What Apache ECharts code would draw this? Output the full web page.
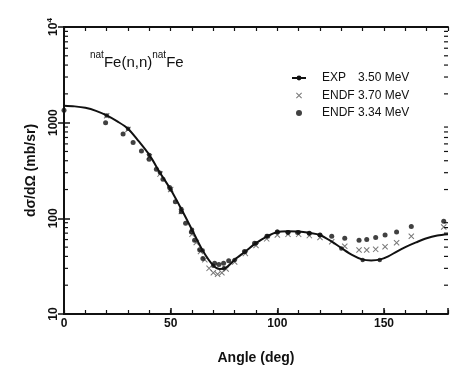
<!DOCTYPE html>
<html><head><meta charset="utf-8">
<script src="https://cdn.jsdelivr.net/npm/echarts@6/dist/echarts.min.js"></script>
<style>html,body{margin:0;padding:0;background:#fff}#c{width:474px;height:378px}</style>
</head><body><div id="c"></div>
<script>
// EXP fit curve
const curveAngles = [0,5,10,15,20,25,30,35,40,45,50,55,60,65,70,73,76,80,85,90,95,100,105,110,115,120,125,130,135,140,144,148,152,156,160,165,170,175,180];
const curveValues = [1500,1480,1430,1330,1190,1030,865,640,460,300,200,125,76,46,32,29.5,30.5,37,45,55,64.5,72,73.5,73,70.5,67,58,49,41.5,37,36.3,37,40,45,50,56,62,66,68];
// EXP markers
const expAngles = [20,30,40,45,50,55,60,65,70,75,80,85,90,95,100,105,110,115,120,130,140,148];
const expValues = [1190,865,460,300,200,125,76,46,32,30,36.7,44.8,54.8,65.3,72.4,71.4,71.4,69.7,67,48.5,36.7,36.7];
// ENDF 3.70 MeV (crosses)
const endf370Angles = [20,30,40,45,50,55,60,62,64,66,68,70,72,74,76,80,85,90,95,100,105,110,115,120,125.5,131.6,138.3,141.9,146.1,150.5,155.9,162.8,178];
const endf370Values = [1180,850,440,290,200,118,68,56,45,37,30,27,26,27,29.5,35,43,52,61,67,68,68,66,63,57,51,46.6,46.6,47.4,50.5,55.6,65,81];
// ENDF 3.34 MeV (dots)
const endf334Angles = [0,19.5,27.7,32.4,36.3,39.9,43.3,46.4,49.5,52.2,55,57,59.7,61.2,63.6,65.1,70.6,72.6,74.8,77.2,84.6,89.3,95.5,100,105,109.5,115,120,125.5,131.6,138.3,141.9,146.1,150.5,155.9,162.8,178];
const endf334Values = [1350,1000,760,620,505,414,325,256,210,149,117,89,72,59,47,38,34,33,34,36,45,55,65,72,71,71,70,67,65,62,59,60,63,67,72,82,93];
// axis ticks
const yMinorTicks = [20,30,40,50,60,70,80,90,200,300,400,500,600,700,800,900,2000,3000,4000,5000,6000,7000,8000,9000];
const seriesNames = ['EXP 3.50 MeV','ENDF 3.70 MeV','ENDF 3.34 MeV'];

const zip = (a,b) => a.map((v,i)=>[v,b[i]]);
const FONT = 'Liberation Sans';
const INK = '#111';
const crossPath = 'path://M0,1.2L1.2,0L10,8.8L8.8,10Z M8.8,0L10,1.2L1.2,10L0,8.8Z';

const chart = echarts.init(document.getElementById('c'), null, {renderer:'canvas'});
const axisLine = {show:true, lineStyle:{color:INK, width:2}};
chart.setOption({
  animation:false,
  backgroundColor:'#fff',
  title:{
    left:85, top:45,
    text:'{s|nat}{m|Fe(n,n)}{s|nat}{m|Fe}',
    textStyle:{fontWeight:'normal',rich:{
      s:{fontFamily:FONT,fontSize:10,fontWeight:'normal',color:INK,verticalAlign:'top',lineHeight:20},
      m:{fontFamily:FONT,fontSize:15,fontWeight:'normal',color:INK,verticalAlign:'bottom',lineHeight:20}
    }}
  },
  legend:{
    data:seriesNames,
    orient:'vertical', left:286, top:67,
    itemWidth:14, itemHeight:6, itemGap:5.5,
    formatter:function(n){const p=n.split(' ');return '{a|'+p[0]+'}{b|'+p[1]+' '+p[2]+'}';},
    textStyle:{fontFamily:FONT,fontSize:12,color:INK,
      rich:{a:{fontFamily:FONT,fontSize:12,color:INK,width:36,padding:[0,0,0,11],lineHeight:14},
            b:{fontFamily:FONT,fontSize:12,color:INK,lineHeight:14}}}
  },
  grid:{left:64,right:26,top:27,bottom:64},
  xAxis:[
    {type:'value',position:'bottom',min:0,max:180,interval:50,
     name:'Angle (deg)',nameLocation:'middle',nameGap:37,
     nameTextStyle:{fontFamily:FONT,fontSize:14,fontWeight:'bold',color:INK},
     axisLine:axisLine,axisTick:{inside:true,length:6,lineStyle:{color:INK,width:1.5}},
     axisLabel:{margin:4,fontFamily:FONT,fontSize:12,fontWeight:'bold',color:INK,
       formatter:v=>(v%50===0?String(v):'')},
     splitLine:{show:false}},
    {type:'value',position:'bottom',min:0,max:180,interval:10,
     axisLine:{show:false},axisTick:{inside:true,length:4,lineStyle:{color:INK,width:1.2}},
     axisLabel:{show:false},splitLine:{show:false}},
    {type:'value',position:'top',min:0,max:180,interval:10,
     axisLine:axisLine,axisTick:{inside:true,length:4,lineStyle:{color:INK,width:1.2}},
     axisLabel:{show:false},splitLine:{show:false}}
  ],
  yAxis:[
    {type:'log',logBase:10,min:10,max:10000,position:'left',
     name:'dσ/dΩ (mb/sr)',nameLocation:'middle',nameGap:23,nameRotate:90,
     nameTextStyle:{fontFamily:FONT,fontSize:14,fontWeight:'bold',color:INK},
     axisLine:axisLine,axisTick:{inside:true,length:6,lineStyle:{color:INK,width:1.5}},
     axisLabel:{rotate:90,margin:4,fontFamily:FONT,fontSize:12,fontWeight:'bold',color:INK,
       formatter:v=>(v>=10000?'{b|10}{s|4}':String(Math.round(v))),
       rich:{b:{fontFamily:FONT,fontSize:12,fontWeight:'bold',color:INK,verticalAlign:'bottom',lineHeight:14},
             s:{fontFamily:FONT,fontSize:8,fontWeight:'bold',color:INK,verticalAlign:'top',lineHeight:14}}},
     splitLine:{show:false}},
    {type:'log',logBase:10,min:10,max:10000,position:'right',
     axisLine:axisLine,axisTick:{inside:true,length:6,lineStyle:{color:INK,width:1.5}},
     axisLabel:{show:false},splitLine:{show:false}}
  ],
  series:[
    {name:seriesNames[0],type:'line',data:zip(curveAngles,curveValues),smooth:0.3,
     symbol:'circle',symbolSize:5,showSymbol:false,
     lineStyle:{color:INK,width:2},itemStyle:{color:INK},z:3},
    {name:seriesNames[1],type:'scatter',data:zip(endf370Angles,endf370Values),
     symbol:crossPath,symbolSize:6,itemStyle:{color:'#555'},z:2},
    {name:seriesNames[2],type:'scatter',data:zip(endf334Angles,endf334Values),
     symbol:'circle',symbolSize:5,itemStyle:{color:INK},z:4},
    {name:seriesNames[0],type:'scatter',data:zip(expAngles,expValues),
     symbol:'circle',symbolSize:4.5,itemStyle:{color:INK},z:5},
    {type:'custom',silent:true,z:6,clip:false,
     data:yMinorTicks.map(v=>[0,v]),
     renderItem:function(params,api){
       const v=api.value(1);
       const a=api.coord([0,v]); const b=api.coord([180,v]);
       return {type:'group',children:[
         {type:'line',shape:{x1:a[0],y1:a[1],x2:a[0]+4,y2:a[1]},style:{stroke:INK,lineWidth:1.2}},
         {type:'line',shape:{x1:b[0],y1:b[1],x2:b[0]-4,y2:b[1]},style:{stroke:INK,lineWidth:1.2}}
       ]};
     }}
  ]
});
</script></body></html>
